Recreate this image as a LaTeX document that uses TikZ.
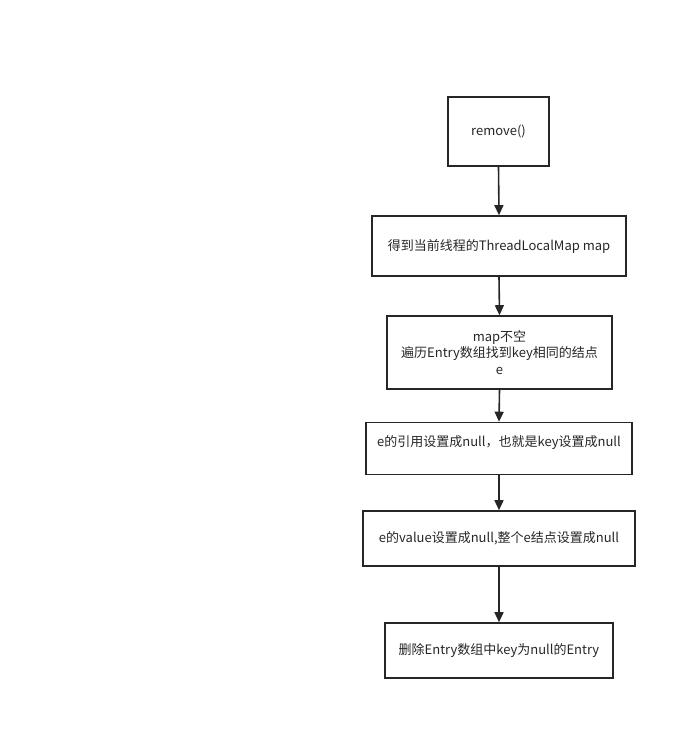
\documentclass[tikz,border=0pt]{standalone}
\usepackage{fontspec}
\setmainfont{Noto Sans CJK SC}
\usetikzlibrary{arrows.meta}
\begin{document}
\begin{tikzpicture}[x=1pt,y=-1pt,
  box/.style={draw=black!85,line width=1.6pt,rectangle,inner sep=0pt,align=center,font=\fontsize{13}{16.5}\selectfont,text=black!85},
  arr/.style={draw=black!85,line width=1.6pt,-{Triangle[length=10pt,width=9pt]}}]
\useasboundingbox (0,0) rectangle (697,741);
\node[box,minimum width=101pt,minimum height=69pt] (a) at (498.5,131.5) {remove()};
\node[box,minimum width=254pt,minimum height=60pt] (b) at (499,246) {得到当前线程的ThreadLocalMap map};
\node[box,minimum width=225pt,minimum height=73pt] (c) at (499.5,352.5) {map不空\\遍历Entry数组找到key相同的结点\\e};
\node[box,minimum width=266pt,minimum height=52pt] (d) at (499,448.5) {e的引用设置成null，也就是key设置成null\\[-2pt]\mbox{}};
\node[box,minimum width=272pt,minimum height=55pt] (e) at (499,538.5) {e的value设置成null,整个e结点设置成null};
\node[box,minimum width=228pt,minimum height=55pt] (f) at (499,650.5) {删除Entry数组中key为null的Entry};
\draw[arr] (a.south) -- (b.north);
\draw[arr] (b.south) -- (c.north);
\draw[arr] (c.south) -- (d.north);
\draw[arr] (d.south) -- (e.north);
\draw[arr] (e.south) -- (f.north);
\end{tikzpicture}
\end{document}
